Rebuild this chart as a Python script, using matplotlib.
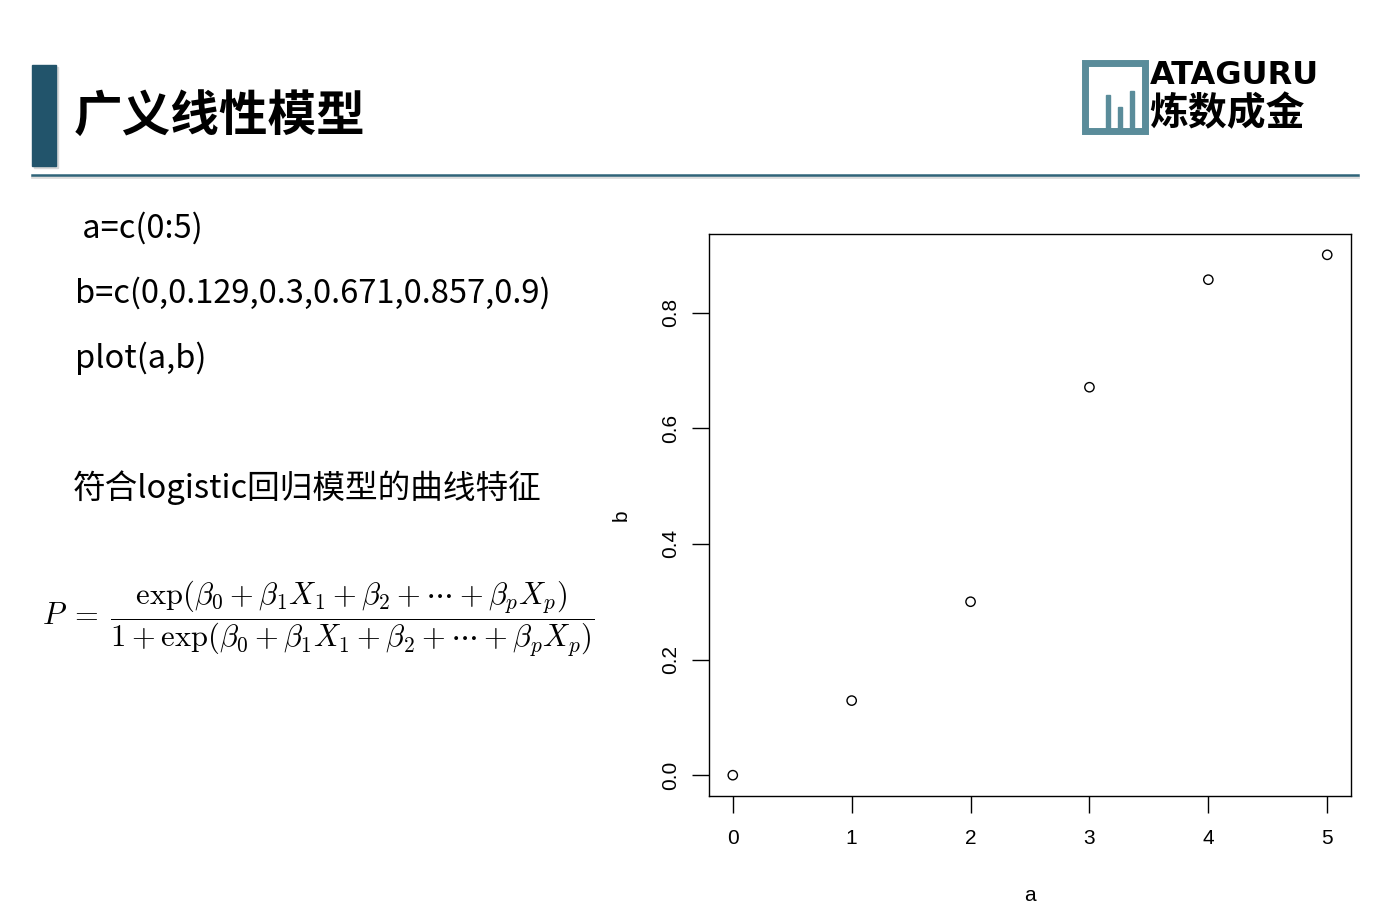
import numpy as np
import matplotlib.pyplot as plt
from matplotlib.patches import Rectangle

plt.rcParams['font.family'] = ['Noto Sans CJK SC', 'DejaVu Sans']
plt.rcParams['mathtext.fontset'] = 'cm'

# data
a = [0, 1, 2, 3, 4, 5]
b = [0, 0.129, 0.3, 0.671, 0.857, 0.9]
x_ticks = [0, 1, 2, 3, 4, 5]
y_ticks = [0.0, 0.2, 0.4, 0.6, 0.8]
y_tick_labels = ['0.0', '0.2', '0.4', '0.6', '0.8']

title = '广义线性模型'
code_lines = [' a=c(0:5)', 'b=c(0,0.129,0.3,0.671,0.857,0.9)', 'plot(a,b)']
note = '符合logistic回归模型的曲线特征'

W, H = 1382, 914
fig = plt.figure(figsize=(W / 100, H / 100), dpi=100)
fig.patch.set_facecolor('white')

def fx(px):
    return px / W

def fy(py):
    return 1 - py / H

# header: bar, title, rule
fig.patches.append(Rectangle((fx(34), fy(168)), fx(24), 101 / H, transform=fig.transFigure,
                             color='#d8d8d8', zorder=0))
fig.patches.append(Rectangle((fx(32), fy(166)), fx(24), 101 / H, transform=fig.transFigure,
                             color='#22546b', zorder=1))
fig.text(fx(74), fy(116), title, fontsize=35, fontweight='bold', va='center', ha='left')
fig.add_artist(plt.Line2D([fx(32), fx(1358)], [fy(177), fy(177)], transform=fig.transFigure,
                          color='#dddddd', lw=2))
fig.add_artist(plt.Line2D([fx(32), fx(1358)], [fy(175), fy(175)], transform=fig.transFigure,
                          color='#2f6479', lw=1.8))

# logo
fig.patches.append(Rectangle((fx(1085), fy(131)), fx(60), 68 / H, transform=fig.transFigure,
                             facecolor='none', edgecolor='#5a8c9a', lw=5))
for bx, bh in [(1106, 34), (1118, 22), (1130, 38)]:
    fig.patches.append(Rectangle((fx(bx), fy(129)), fx(4), bh / H, transform=fig.transFigure,
                                 color='#5a8c9a'))
fig.text(fx(1150), fy(76), 'ATAGURU', fontsize=23, fontweight='bold', va='center', ha='left',
         family=['DejaVu Sans'])
fig.text(fx(1149), fy(94), '炼数成金', fontsize=28, fontweight='bold', va='top', ha='left')

# left text
for txt, ypix in zip(code_lines, [228, 293, 358]):
    fig.text(fx(75), fy(ypix), txt, fontsize=23.5, va='center', ha='left')
fig.text(fx(73), fy(488), note, fontsize=23.5, va='center', ha='left')

formula = (r'$P\;=\;\dfrac{\exp(\beta_0 + \beta_1 X_1 + \beta_2 + \cdots + \beta_p X_p)}'
           r'{1 + \exp(\beta_0 + \beta_1 X_1 + \beta_2 + \cdots + \beta_p X_p)}$')
fig.text(fx(318), fy(618), formula, fontsize=22, va='center', ha='center')

# scatter plot
ax = fig.add_axes([fx(709), fy(796), fx(1351 - 709), (796 - 234) / H])
ax.scatter(a, b, s=45, facecolors='none', edgecolors='black', linewidths=1)
ax.set_xlim(-0.2, 5.2)
ax.set_ylim(-0.036, 0.936)
ax.set_xticks(x_ticks)
ax.set_yticks(y_ticks)
ax.set_yticklabels(y_tick_labels, rotation=90, va='center')
ax.tick_params(axis='x', pad=12)
ax.tick_params(axis='y', pad=9)
ax.tick_params(direction='out', length=12, width=1, labelsize=15)
for lab in ax.get_xticklabels() + ax.get_yticklabels():
    lab.set_family(['Liberation Sans', 'DejaVu Sans'])
for sp in ax.spines.values():
    sp.set_linewidth(1)
ax.set_xlabel('a', fontsize=15, labelpad=27, family=['Liberation Sans'])
ax.set_ylabel('b', fontsize=15, labelpad=22, family=['Liberation Sans'])

fig.savefig('out.png', dpi=100)
